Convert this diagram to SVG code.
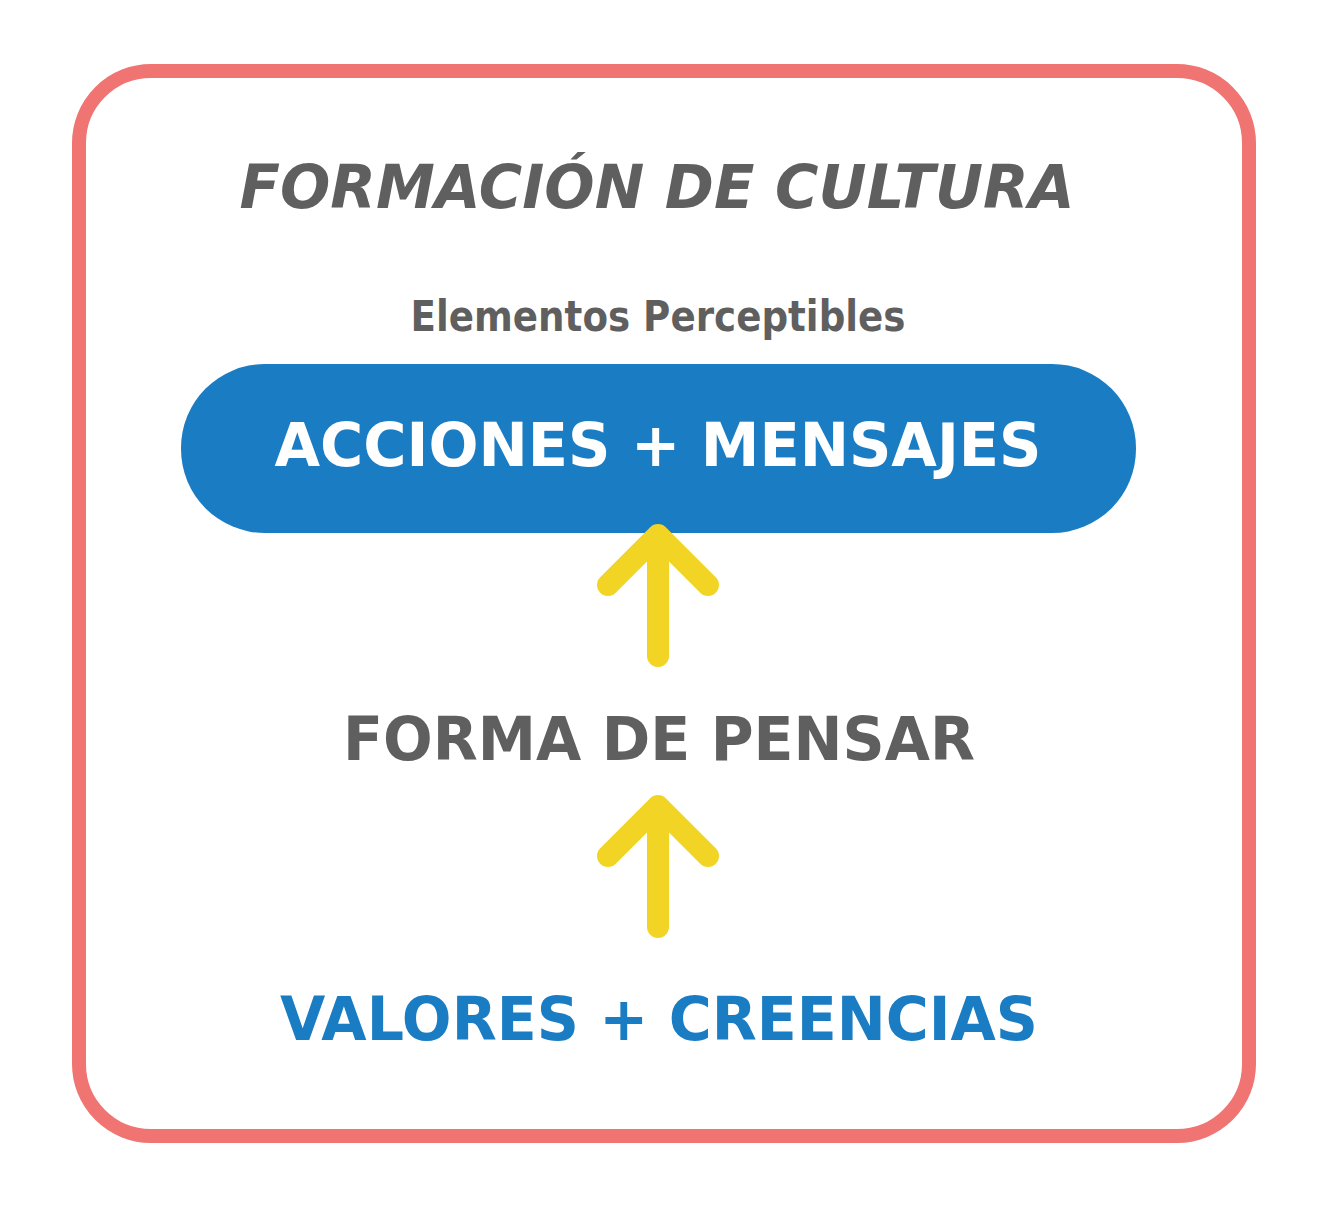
<svg xmlns="http://www.w3.org/2000/svg" width="1328" height="1209" viewBox="0 0 1328 1209">
<style>
.t{font-family:"DejaVu Sans","Liberation Sans",sans-serif;font-weight:bold;text-anchor:middle}
.arrow{fill:none;stroke:#f2d524;stroke-width:22;stroke-linecap:round;stroke-linejoin:round}
</style>
<rect width="1328" height="1209" fill="#ffffff"/>
<g id="frame"><rect x="79" y="71" width="1170" height="1065" rx="72" fill="none" stroke="#ef7472" stroke-width="14"/></g>
<g id="title"><text class="t" x="657" y="208" font-size="61" font-style="italic" fill="#5f5f5f" textLength="835" lengthAdjust="spacingAndGlyphs">FORMACIÓN DE CULTURA</text></g>
<g id="perceptibles"><text class="t" x="658" y="331" font-size="42" fill="#5f5f5f" textLength="495" lengthAdjust="spacingAndGlyphs">Elementos Perceptibles</text></g>
<g id="acciones">
<rect x="181" y="364" width="955" height="169" rx="84" fill="#1a7dc4"/>
<text class="t" x="658" y="466" font-size="61" fill="#ffffff" textLength="767" lengthAdjust="spacingAndGlyphs">ACCIONES + MENSAJES</text>
</g>
<g id="forma"><text class="t" x="659" y="760" font-size="61" fill="#5f5f5f" textLength="632" lengthAdjust="spacingAndGlyphs">FORMA DE PENSAR</text></g>
<g id="valores"><text class="t" x="659" y="1040" font-size="61" fill="#1a7dc4" textLength="758" lengthAdjust="spacingAndGlyphs">VALORES + CREENCIAS</text></g>
<g id="connectors">
<path class="arrow" d="M658 656 V536 M608 585 L658 535 L708 585"/>
<path class="arrow" d="M658 927 V807 M608 856 L658 806 L708 856"/>
</g>
</svg>
